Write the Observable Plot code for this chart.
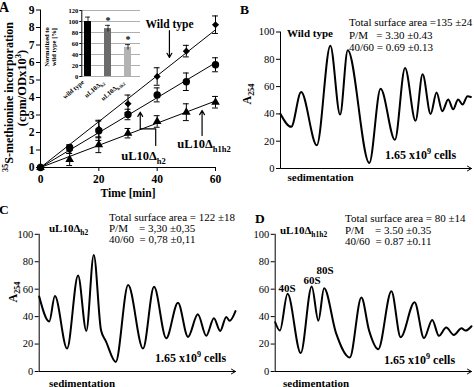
<!DOCTYPE html>
<html>
<head>
<meta charset="utf-8">
<script src="https://cdn.jsdelivr.net/npm/d3@7"></script>
<script src="https://cdn.jsdelivr.net/npm/@observablehq/plot@0.6"></script>
<style>
  body { margin: 0; background: #fff; }
  #fig { position: relative; width: 474px; height: 387px; overflow: hidden; background: #fff; }
  #fig svg { position: absolute; overflow: visible; }
  #fig text { white-space: pre; }
</style>
</head>
<body>
<div id="fig"></div>
<script>
// ---- Panel A: 35S-methionine incorporation over time ----
const times = [0, 10, 20, 30, 40, 50, 60];
const wildType = [0, 1.0, 2.2, 3.64, 5.2, 6.65, 8.16];
const wildTypeErr = [0, 0.2, 0.5, 0.5, 0.5, 0.33, 0.5];
const deltaH2 = [0, 1.15, 2.1, 3.03, 4.15, 4.9, 5.87];
const deltaH2Err = [0, 0.15, 0.55, 0.3, 0.4, 0.5, 0.4];
const deltaH1H2 = [0, 0.46, 1.3, 1.96, 2.63, 3.16, 3.73];
const deltaH1H2Err = [0, 0.35, 0.45, 0.27, 0.33, 0.48, 0.33];
const timeTicks = [0, 20, 40, 60];
const incorporationTicks = [0, 1, 2, 3, 4, 5, 6, 7, 8, 9];

// ---- Inset: incorporation normalized to wild type ----
const strains = ["wild type", "uL10Δh2", "uL10Δh1h2"];
const strainLabels = ["wild type", "uL10Δ_{h2}", "uL10Δ_{h1h2}"];
const normalized = [100, 87, 53];
const normalizedErr = [8, 6, 5];
const significant = [false, true, true];
const percentTicks = [0, 20, 40, 60, 80, 100, 120];

// ---- Panels B–D: polysome profiles (gradient position 0–100, A254) ----
const wtPos   = [0, 5.6, 10.8, 19, 26.1, 31.2, 35.2, 46.5, 52.4, 59.9, 65.2, 70.7, 74.4, 78.6, 81.7, 84.7, 87.8, 90.4, 93, 95.3, 97.9, 99.7];
const wtA254  = [40, 30.5, 56, 17, 90, 39.5, 86.6, 4, 58.5, 21, 73.7, 35, 69, 40, 55.6, 42, 50.5, 43.4, 50.5, 46.8, 53, 52.4];
const h2Pos   = [0, 5.1, 8, 14.2, 19.8, 24, 27.8, 31.5, 34, 39, 45.3, 52.9, 58.5, 64.7, 70.7, 75.8, 80.8, 85.1, 89, 92.2, 95.3, 97, 100];
const h2A254  = [54.6, 36.4, 55, 16.7, 70, 29.6, 85, 30, 22, 7, 63, 16.7, 61.7, 24.3, 50.2, 25.2, 41.7, 26, 38.8, 29.6, 39.8, 36.9, 44];
const h1h2Pos = [0, 2.4, 6.3, 13, 18.6, 22, 24.9, 31, 38, 43.9, 47.8, 52.5, 59.2, 63.9, 71, 75.8, 80, 83.4, 87.1, 91, 94.9, 97, 100];
const h1h2A254 = [35.9, 29.8, 56.6, 13.4, 62, 37, 60.7, 28, 10.2, 54, 30, 16.3, 58.5, 25, 50.5, 24.4, 37.6, 26, 32, 26.6, 31.5, 29.8, 33];
const a254Ticks = [0, 20, 40, 60, 80, 100];

const serif = '"Liberation Serif", "Times New Roman", serif';
const fig = document.getElementById("fig");

function place(svg, left, top) {
  svg.style.left = left + "px";
  svg.style.top = top + "px";
  fig.appendChild(svg);
  return svg;
}

// Text with _{sub} and ^{sup} segments
function rich(svg, str, {x, y, size = 12, weight = "bold", anchor = "start", rotate = 0}) {
  const t = d3.select(svg).append("text")
    .attr("transform", `translate(${x},${y}) rotate(${rotate})`)
    .attr("font-family", serif)
    .attr("font-size", size)
    .attr("font-weight", weight)
    .attr("text-anchor", anchor)
    .attr("fill", "black");
  const parts = str.split(/(_\{[^}]*\}|\^\{[^}]*\})/).filter(s => s);
  let shift = 0;
  for (const p of parts) {
    let content = p, fs = size, target = 0;
    if (p.startsWith("_{")) { content = p.slice(2, -1); fs = size * 0.68; target = size * 0.28; }
    else if (p.startsWith("^{")) { content = p.slice(2, -1); fs = size * 0.68; target = -size * 0.38; }
    t.append("tspan").attr("dy", target - shift).attr("font-size", fs).text(content);
    shift = target;
  }
  return t;
}

const baseStyle = {background: "transparent", overflow: "visible", fontFamily: serif, color: "black"};

// ---------- Panel A ----------
const series = [
  {key: "wild type", values: wildType, errors: wildTypeErr},
  {key: "uL10Δh2", values: deltaH2, errors: deltaH2Err},
  {key: "uL10Δh1h2", values: deltaH1H2, errors: deltaH1H2Err}
];
const points = series.flatMap(s => times.map((t, i) => ({series: s.key, t, v: s.values[i], e: s.errors[i]})));
const withErr = points.filter(d => d.e > 0);
// least-squares lines through the origin
const fits = series.flatMap(s => {
  const k = d3.sum(times, (t, i) => t * s.values[i]) / d3.sum(times, t => t * t);
  return [{series: s.key, t: 0, v: 0}, {series: s.key, t: d3.max(times), v: k * d3.max(times)}];
});

const panelA = Plot.plot({
  width: 237, height: 200,
  marginLeft: 40, marginRight: 22, marginTop: 9.5, marginBottom: 33,
  style: {...baseStyle, fontWeight: "bold"},
  x: {domain: [0, 60]},
  y: {domain: [0, 9]},
  marks: [
    Plot.axisX({ticks: timeTicks, tickSize: 4, tickPadding: 3, fontSize: 11.5, label: null}),
    Plot.axisY({ticks: incorporationTicks, tickSize: 4, tickPadding: 2, fontSize: 11.5, label: null}),
    Plot.ruleX([0]),
    Plot.ruleY([0]),
    Plot.line(fits, {x: "t", y: "v", z: "series", stroke: "black", strokeWidth: 1}),
    Plot.ruleX(withErr, {x: "t", y1: d => d.v - d.e, y2: d => d.v + d.e, strokeWidth: 1}),
    Plot.ruleY(withErr, {y: d => d.v + d.e, x1: d => d.t - 1, x2: d => d.t + 1, strokeWidth: 1}),
    Plot.ruleY(withErr, {y: d => d.v - d.e, x1: d => d.t - 1, x2: d => d.t + 1, strokeWidth: 1}),
    Plot.dot(points.filter(d => d.series === "uL10Δh1h2"), {x: "t", y: "v", symbol: "triangle", r: 3.2, fill: "black"}),
    Plot.dot(points.filter(d => d.series === "uL10Δh2"), {x: "t", y: "v", symbol: "circle", r: 3.7, fill: "black"}),
    Plot.dot(points.filter(d => d.series === "wild type"), {x: "t", y: "v", symbol: "diamond2", r: 3.2, fill: "black"}),
    // annotations
    Plot.arrow([0], {x1: 44.2, y1: 7.83, x2: 44.2, y2: 6.29, headLength: 6, strokeWidth: 1.2}),
    Plot.arrow([0], {x1: 34.2, y1: 2.21, x2: 34.2, y2: 3.16, headLength: 6, strokeWidth: 1.2}),
    Plot.line([[34.2, 2.21], [39.5, 2.21], [39.5, 1.26]], {x: d => d[0], y: d => d[1], strokeWidth: 1.2}),
    Plot.arrow([0], {x1: 55.4, y1: 1.83, x2: 55.4, y2: 3.26, headLength: 6, strokeWidth: 1.2})
  ]
});
place(panelA, 0, 0);
rich(panelA, "A", {x: -1, y: 12, size: 14});
rich(panelA, "Time [min]", {x: 128, y: 197, size: 11.5, anchor: "middle"});
rich(panelA, "^{35}S-methionine incorporation", {x: 12.5, y: 97, size: 12, anchor: "middle", rotate: -90});
rich(panelA, "(cpm/ODx10^{3})", {x: 25.5, y: 88, size: 12.5, anchor: "middle", rotate: -90});
rich(panelA, "Wild type", {x: 169.5, y: 28, size: 11.5, anchor: "middle"});
rich(panelA, "uL10Δ_{h2}", {x: 143.5, y: 160, size: 12.5, anchor: "middle"});
rich(panelA, "uL10Δ_{h1h2}", {x: 204, y: 148, size: 12.5, anchor: "middle"});

// ---------- Inset ----------
const insetData = strains.map((s, i) => ({strain: s, v: normalized[i], e: normalizedErr[i], sig: significant[i]}));
const inset = Plot.plot({
  width: 105, height: 100,
  marginLeft: 41.3, marginRight: 5, marginTop: 10, marginBottom: 24,
  style: {...baseStyle, fontWeight: "bold"},
  x: {domain: strains, paddingInner: 0.65, paddingOuter: 0.28, align: 0.24, axis: null},
  y: {domain: [0, 120]},
  color: {domain: strains, range: ["#000000", "#6b6b6b", "#b3b3b3"]},
  marks: [
    Plot.gridY({ticks: percentTicks, stroke: "#9a9a9a", strokeOpacity: 1, strokeWidth: 0.8}),
    Plot.axisY({ticks: percentTicks, tickSize: 2, tickPadding: 1.5, fontSize: 6.5, label: null}),
    Plot.frame({anchor: "left"}),
    Plot.barY(insetData, {x: "strain", y: "v", fill: "strain"}),
    Plot.ruleX(insetData, {x: "strain", y1: d => d.v - d.e, y2: d => d.v + d.e, strokeWidth: 0.8}),
    Plot.tickY(insetData, {x: "strain", y: d => d.v + d.e, inset: 1, strokeWidth: 0.8}),
    Plot.text(insetData.filter(d => d.sig), {x: "strain", y: d => d.v + d.e, text: () => "*", dy: -5, fontSize: 10})
  ]
});
place(inset, 40, 0);
{
  const xs = inset.scale("x");
  strains.forEach((s, i) => {
    rich(inset, strainLabels[i], {x: xs.apply(s) + xs.bandwidth / 2 - 3, y: 83, size: 6.5, anchor: "end", rotate: -40});
  });
  rich(inset, "Normalized to", {x: 8.5, y: 47, size: 6.5, anchor: "middle", rotate: -90});
  rich(inset, "wild type [%]", {x: 15.5, y: 47, size: 6.5, anchor: "middle", rotate: -90});
}

// ---------- Panels B–D ----------
function profile(pos, a254, {width, height, marginLeft, marginRight, marginTop, marginBottom}) {
  const rows = pos.map((p, i) => ({p, v: a254[i]}));
  return Plot.plot({
    width, height, marginLeft, marginRight, marginTop, marginBottom,
    style: baseStyle,
    x: {domain: [0, 100], axis: null},
    y: {domain: [0, 100]},
    marks: [
      Plot.axisY({ticks: a254Ticks, tickSize: 4, tickPadding: 2, fontSize: 10.5, label: null}),
      Plot.ruleX([0]),
      Plot.arrow([0], {x1: 0, y1: 0, x2: 100, y2: 0, headLength: 7, strokeWidth: 1}),
      Plot.line(rows, {x: "p", y: "v", curve: "monotone-x", strokeWidth: 2})
    ]
  });
}

const panelB = place(profile(wtPos, wtA254, {width: 237, height: 195, marginLeft: 43, marginRight: 3, marginTop: 31.5, marginBottom: 27}), 237, 0);
rich(panelB, "B", {x: 3, y: 14, size: 13.5});
rich(panelB, "Wild type", {x: 50, y: 37, size: 11});
rich(panelB, "Total surface area =135 ±24", {x: 112, y: 26, size: 11, weight: "normal"});
rich(panelB, "P/M\u00a0\u00a0\u00a0= 3.30 ±0.43", {x: 112, y: 39, size: 11, weight: "normal"});
rich(panelB, "40/60 = 0.69 ±0.13", {x: 112, y: 51, size: 11, weight: "normal"});
rich(panelB, "1.65 x10^{9} cells", {x: 148, y: 159, size: 12});
rich(panelB, "sedimentation", {x: 50.5, y: 180.5, size: 11});
rich(panelB, "A_{254}", {x: 14, y: 94, size: 12, anchor: "middle", rotate: -90});

const panelC = place(profile(h2Pos, h2A254, {width: 237, height: 192, marginLeft: 38.7, marginRight: 2, marginTop: 38.8, marginBottom: 16}), 0, 195);
rich(panelC, "C", {x: -1, y: 19, size: 13.5});
rich(panelC, "uL10Δ_{h2}", {x: 49, y: 37, size: 11});
rich(panelC, "Total surface area = 122 ±18", {x: 109, y: 26, size: 11, weight: "normal"});
rich(panelC, "P/M\u00a0\u00a0\u00a0\u00a0= 3,30 ±0,35", {x: 109, y: 37, size: 11, weight: "normal"});
rich(panelC, "40/60\u00a0 = 0,78 ±0,11", {x: 109, y: 47.5, size: 11, weight: "normal"});
rich(panelC, "1.65 x10^{9} cells", {x: 155, y: 167, size: 12});
rich(panelC, "sedimentation", {x: 49, y: 191.5, size: 11});
rich(panelC, "A_{254}", {x: 17, y: 97, size: 12, anchor: "middle", rotate: -90});

const panelD = place(profile(h1h2Pos, h1h2A254, {width: 237, height: 192, marginLeft: 37.7, marginRight: 3, marginTop: 38.8, marginBottom: 16}), 237, 195);
rich(panelD, "D", {x: 18, y: 28, size: 13.5});
rich(panelD, "uL10Δ_{h1h2}", {x: 43, y: 39, size: 11});
rich(panelD, "Total surface area = 80 ±14", {x: 108, y: 27, size: 11, weight: "normal"});
rich(panelD, "P/M\u00a0\u00a0\u00a0\u00a0= 3.50 ±0.35", {x: 108, y: 39, size: 11, weight: "normal"});
rich(panelD, "40/60\u00a0 = 0.87 ±0.11", {x: 108, y: 50, size: 11, weight: "normal"});
rich(panelD, "40S", {x: 50, y: 97, size: 11, anchor: "middle"});
rich(panelD, "60S", {x: 75, y: 89, size: 11, anchor: "middle"});
rich(panelD, "80S", {x: 88, y: 79, size: 11, anchor: "middle"});
rich(panelD, "1.65 x10^{9} cells", {x: 147, y: 169, size: 12});
rich(panelD, "sedimentation", {x: 46, y: 191.5, size: 11});
</script>
</body>
</html>
